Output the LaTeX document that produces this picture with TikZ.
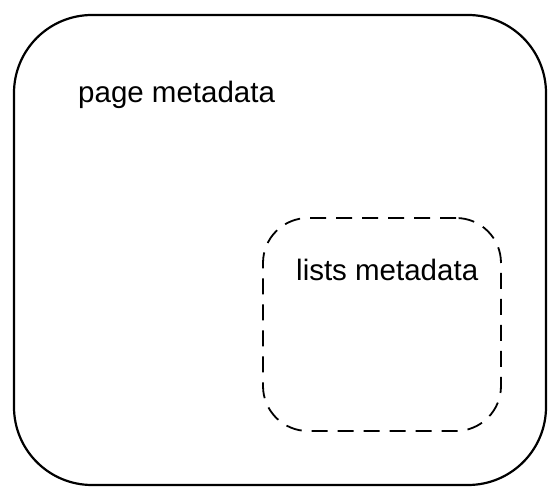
\documentclass[tikz,border=0pt]{standalone}
\usepackage{fontspec}
\setmainfont{Liberation Sans}
\tikzset{
  metabox/.style={draw, line width=2.2pt, inner sep=0pt},
  metalabel/.style={anchor=base west, inner sep=0pt, font=\fontsize{29.5}{35}\selectfont}
}
\begin{document}
\begin{tikzpicture}[x=1pt,y=1pt]
        \useasboundingbox (0,0) rectangle (558,500);
        % outer box
        \node[metabox, rounded corners=78pt, minimum width=532pt, minimum height=470pt] (page) at (280,250) {};
        \node[metalabel] (pagetext) at (78,397) {page metadata};
        % inner box
        \node[metabox, line width=1.8pt, dash pattern=on 16pt off 10pt, rounded corners=45pt,
              minimum width=238pt, minimum height=213pt] (lists) at (382,175.5) {};
        \node[metalabel] (liststext) at (296,219) {lists metadata};
    \end{tikzpicture}
\end{document}
